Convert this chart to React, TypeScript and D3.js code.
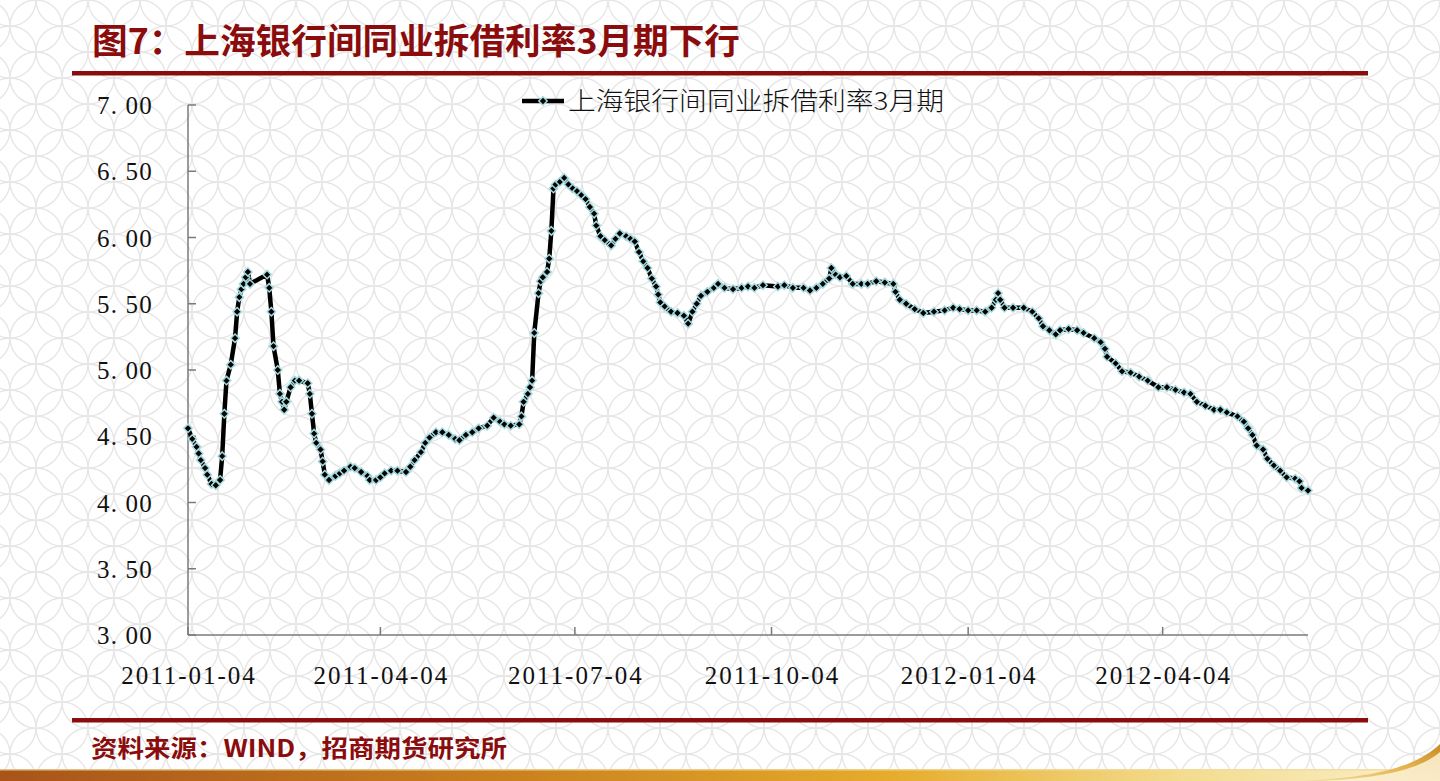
import React, { useEffect } from 'react';
import * as d3 from 'd3';

const W = 1440;
const H = 781;

const titleText = '图7：上海银行间同业拆借利率3月期下行';
const seriesName = '上海银行间同业拆借利率3月期';
const sourceText = '资料来源：WIND，招商期货研究所';

const yTicks = [3, 3.5, 4, 4.5, 5, 5.5, 6, 6.5, 7];
const xTickLabels = ['2011-01-04', '2011-04-04', '2011-07-04', '2011-10-04', '2012-01-04', '2012-04-04'];
const xDomain = ['2011-01-04', '2012-06-11'];

const dates = [
  '2011-01-04','2011-01-06','2011-01-08','2011-01-09','2011-01-10','2011-01-12','2011-01-13','2011-01-15','2011-01-17','2011-01-19',
  '2011-01-20','2011-01-21','2011-01-22','2011-01-24','2011-01-26','2011-01-27','2011-01-28','2011-01-29','2011-01-30','2011-01-31',
  '2011-02-01','2011-02-02','2011-02-10','2011-02-11','2011-02-12','2011-02-13','2011-02-15','2011-02-16','2011-02-17','2011-02-18',
  '2011-02-19','2011-02-21','2011-02-23','2011-02-25','2011-03-01','2011-03-02','2011-03-03','2011-03-04','2011-03-05','2011-03-07',
  '2011-03-08','2011-03-09','2011-03-11','2011-03-14','2011-03-16','2011-03-18','2011-03-21','2011-03-23','2011-03-26','2011-03-29',
  '2011-03-30','2011-04-02','2011-04-04','2011-04-06','2011-04-09','2011-04-12','2011-04-16','2011-04-18','2011-04-20','2011-04-23',
  '2011-04-25','2011-04-27','2011-04-30','2011-05-03','2011-05-06','2011-05-09','2011-05-11','2011-05-14','2011-05-17','2011-05-20',
  '2011-05-24','2011-05-27','2011-05-30','2011-06-01','2011-06-04','2011-06-08','2011-06-09','2011-06-10','2011-06-12','2011-06-13',
  '2011-06-14','2011-06-15','2011-06-17','2011-06-18','2011-06-19','2011-06-21','2011-06-22','2011-06-23','2011-06-24','2011-06-25',
  '2011-06-27','2011-06-29','2011-07-01','2011-07-03','2011-07-05','2011-07-07','2011-07-09','2011-07-11','2011-07-13','2011-07-14',
  '2011-07-16','2011-07-18','2011-07-21','2011-07-23','2011-07-25','2011-07-28','2011-07-30','2011-08-01','2011-08-03','2011-08-05',
  '2011-08-07','2011-08-09','2011-08-11','2011-08-12','2011-08-13','2011-08-15','2011-08-18','2011-08-21','2011-08-24','2011-08-26',
  '2011-08-28','2011-08-30','2011-09-01','2011-09-04','2011-09-07','2011-09-09','2011-09-12','2011-09-16','2011-09-20','2011-09-23',
  '2011-09-26','2011-09-30','2011-10-07',
  '2011-10-10','2011-10-14','2011-10-19','2011-10-22','2011-10-25','2011-10-28','2011-10-31','2011-11-01','2011-11-03','2011-11-05',
  '2011-11-08','2011-11-11','2011-11-15','2011-11-18','2011-11-22','2011-11-26','2011-11-30','2011-12-01','2011-12-03','2011-12-06',
  '2011-12-10','2011-12-14','2011-12-19','2011-12-24','2011-12-28','2011-12-31','2012-01-04','2012-01-08','2012-01-12','2012-01-15',
  '2012-01-17','2012-01-18','2012-01-19','2012-01-21','2012-01-25','2012-01-30','2012-02-03','2012-02-06','2012-02-08','2012-02-11',
  '2012-02-14','2012-02-16',
  '2012-02-20','2012-02-24','2012-02-27','2012-03-03','2012-03-06','2012-03-08','2012-03-09','2012-03-13','2012-03-16','2012-03-20',
  '2012-03-24','2012-03-28','2012-04-02','2012-04-06','2012-04-10','2012-04-14','2012-04-17','2012-04-20','2012-04-24','2012-04-28',
  '2012-05-01','2012-05-04','2012-05-09','2012-05-12','2012-05-14','2012-05-16','2012-05-18','2012-05-21','2012-05-23','2012-05-26',
  '2012-05-29','2012-06-01','2012-06-05','2012-06-07','2012-06-08','2012-06-11',
];

const values = [
  4.56, 4.48, 4.42, 4.37, 4.32, 4.26, 4.21, 4.14, 4.13, 4.17,
  4.35, 4.67, 4.92, 5.04, 5.24, 5.44, 5.55, 5.61, 5.65, 5.70,
  5.74, 5.65, 5.72, 5.62, 5.44, 5.18, 5.00, 4.82, 4.76, 4.70,
  4.76, 4.87, 4.92, 4.92, 4.90, 4.82, 4.67, 4.52, 4.45, 4.40,
  4.31, 4.21, 4.17, 4.20, 4.22, 4.24, 4.27, 4.26, 4.23, 4.20,
  4.17, 4.17, 4.19, 4.22, 4.24, 4.24, 4.23, 4.27, 4.32, 4.38,
  4.45, 4.49, 4.53, 4.53, 4.51, 4.48, 4.47, 4.51, 4.53, 4.56,
  4.58, 4.64, 4.61, 4.59, 4.58, 4.59, 4.65, 4.76, 4.82, 4.87,
  4.92, 5.28, 5.58, 5.67, 5.70, 5.74, 5.84, 6.05, 6.37, 6.40,
  6.42, 6.45, 6.40, 6.37, 6.35, 6.32, 6.29, 6.23, 6.18, 6.09,
  6.01, 5.98, 5.94, 5.99, 6.03, 6.01, 5.99, 5.97, 5.89, 5.82,
  5.77, 5.69, 5.63, 5.57, 5.51, 5.48, 5.44, 5.43, 5.41, 5.35,
  5.44, 5.50, 5.56, 5.59, 5.62, 5.65, 5.62, 5.61, 5.62, 5.63,
  5.62, 5.64, 5.63,
  5.64, 5.62, 5.62, 5.60, 5.62, 5.65, 5.69, 5.77, 5.72, 5.70,
  5.71, 5.65, 5.65, 5.65, 5.67, 5.66, 5.65, 5.59, 5.53, 5.50,
  5.46, 5.43, 5.44, 5.45, 5.47, 5.46, 5.45, 5.45, 5.44, 5.47,
  5.53, 5.58, 5.53, 5.47, 5.47, 5.47, 5.44, 5.39, 5.33, 5.30,
  5.27, 5.30,
  5.31, 5.30, 5.28, 5.24, 5.21, 5.16, 5.10, 5.05, 4.99, 4.98,
  4.95, 4.92, 4.87, 4.87, 4.85, 4.83, 4.82, 4.76, 4.73, 4.70,
  4.70, 4.68, 4.65, 4.61, 4.56, 4.51, 4.43, 4.40, 4.33, 4.28,
  4.24, 4.19, 4.18, 4.16, 4.11, 4.09,
];

const DARK_RED = '#8a0c0c';
const diamond = 'M0,-4.2L4.2,0L0,4.2L-4.2,0Z';

export default function App() {
  useEffect(() => {
    document.body.style.margin = '0';
  }, []);

  const parse = d3.timeParse('%Y-%m-%d');
  const data = dates.map((d, i) => ({ date: parse(d) as Date, value: values[i] }));

  const x = d3.scaleTime()
    .domain([parse(xDomain[0]) as Date, parse(xDomain[1]) as Date])
    .range([188, 1308]);
  const y = d3.scaleLinear().domain([3, 7]).range([635, 105]);

  const linePath = d3.line<{ date: Date; value: number }>()
    .x((d) => x(d.date))
    .y((d) => y(d.value))(data) || '';

  const fmt = d3.format('.2f');
  const serif = '"Liberation Serif", "DejaVu Serif", serif';
  const cjk = '"Noto Sans CJK SC", "Noto Sans", sans-serif';

  return (
    <svg width={W} height={H} style={{ position: 'absolute', left: 0, top: 0, display: 'block' }}>
      <defs>
        <pattern id="qibao" width={52} height={52} patternUnits="userSpaceOnUse" x={10} y={0}>
          {[
            [0, 0], [52, 0], [0, 52], [52, 52], [26, 26],
          ].map(([cx, cy], i) => (
            <circle key={i} cx={cx} cy={cy} r={26} fill="none" stroke="#e6e6e6" strokeWidth={1.4} />
          ))}
        </pattern>
        <linearGradient id="band" x1="0" x2="1" y1="0" y2="0">
          <stop offset="0" stopColor="#a8541a" />
          <stop offset="0.35" stopColor="#c9801e" />
          <stop offset="0.62" stopColor="#e6ac2c" />
          <stop offset="0.82" stopColor="#f3dc8e" />
          <stop offset="1" stopColor="#faf0cc" />
        </linearGradient>
        <linearGradient id="swoosh" x1="0" x2="1" y1="1" y2="0">
          <stop offset="0" stopColor="#f5e3a8" />
          <stop offset="0.6" stopColor="#e3b04a" />
          <stop offset="1" stopColor="#c98a25" />
        </linearGradient>
      </defs>

      <rect x={0} y={0} width={W} height={H} fill="#ffffff" />
      <rect x={0} y={0} width={W} height={H} fill="url(#qibao)" />

      {/* Title */}
      <text
        x={92}
        y={54}
        fontFamily={cjk}
        fontWeight={700}
        fontSize={35}
        fill={DARK_RED}
        textLength={648}
        lengthAdjust="spacingAndGlyphs"
      >
        {titleText}
      </text>
      <rect x={72} y={71} width={1296} height={4.5} fill={DARK_RED} />

      {/* Legend */}
      <line x1={522} x2={564} y1={101} y2={101} stroke="#000" strokeWidth={4.5} />
      <path d={diamond} transform="translate(543,101)" fill="#000" stroke="#a3d9de" strokeWidth={1.5} />
      <text
        x={568}
        y={110}
        fontFamily={cjk}
        fontWeight={300}
        fontSize={25}
        fill="#111"
        textLength={376}
        lengthAdjust="spacingAndGlyphs"
      >
        {seriesName}
      </text>

      {/* Y axis */}
      <line x1={188} x2={188} y1={y(7)} y2={y(3)} stroke="#7a7a7a" strokeWidth={1.5} />
      {yTicks.map((t) => (
        <g key={t}>
          <line x1={188} x2={196} y1={y(t)} y2={y(t)} stroke="#7a7a7a" strokeWidth={1.5} />
          <text
            x={153}
            y={y(t) + 9}
            textAnchor="end"
            fontFamily={serif}
            fontSize={25}
            letterSpacing={1.2}
            fill="#111"
          >
            {fmt(t).replace('.', '. ')}
          </text>
        </g>
      ))}

      {/* X axis */}
      <line x1={188} x2={1308} y1={y(3)} y2={y(3)} stroke="#7a7a7a" strokeWidth={1.5} />
      {xTickLabels.map((s) => {
        const px = x(parse(s) as Date);
        return (
          <g key={s}>
            <line x1={px} x2={px} y1={y(3)} y2={y(3) - 8} stroke="#7a7a7a" strokeWidth={1.5} />
            <text
              x={px + 1}
              y={684}
              textAnchor="middle"
              fontFamily={serif}
              fontSize={25}
              letterSpacing={2}
              fill="#111"
            >
              {s}
            </text>
          </g>
        );
      })}

      {/* Series */}
      <path d={linePath} fill="none" stroke="#000" strokeWidth={4.5} strokeLinejoin="round" />
      {data.map((d, i) => (
        <path
          key={i}
          d={diamond}
          transform={`translate(${x(d.date)},${y(d.value)})`}
          fill="#000"
          stroke="#a3d9de"
          strokeWidth={1.5}
        />
      ))}

      {/* Footer */}
      <rect x={72} y={718} width={1296} height={4.5} fill={DARK_RED} />
      <text
        x={91}
        y={757}
        fontFamily={cjk}
        fontWeight={700}
        fontSize={24}
        fill={DARK_RED}
        textLength={416}
        lengthAdjust="spacingAndGlyphs"
      >
        {sourceText}
      </text>

      <rect x={0} y={769} width={W} height={12} fill="url(#band)" />
      <rect x={0} y={769} width={W} height={1.5} fill="#f2d9a0" opacity={0.8} />
      <path d="M1290,781 C1370,779 1415,768 1440,744 L1440,781 Z" fill="url(#swoosh)" />
      <path d="M1320,781 C1385,778 1422,768 1440,752 L1440,781 Z" fill="#fbf3d8" opacity={0.85} />
    </svg>
  );
}
